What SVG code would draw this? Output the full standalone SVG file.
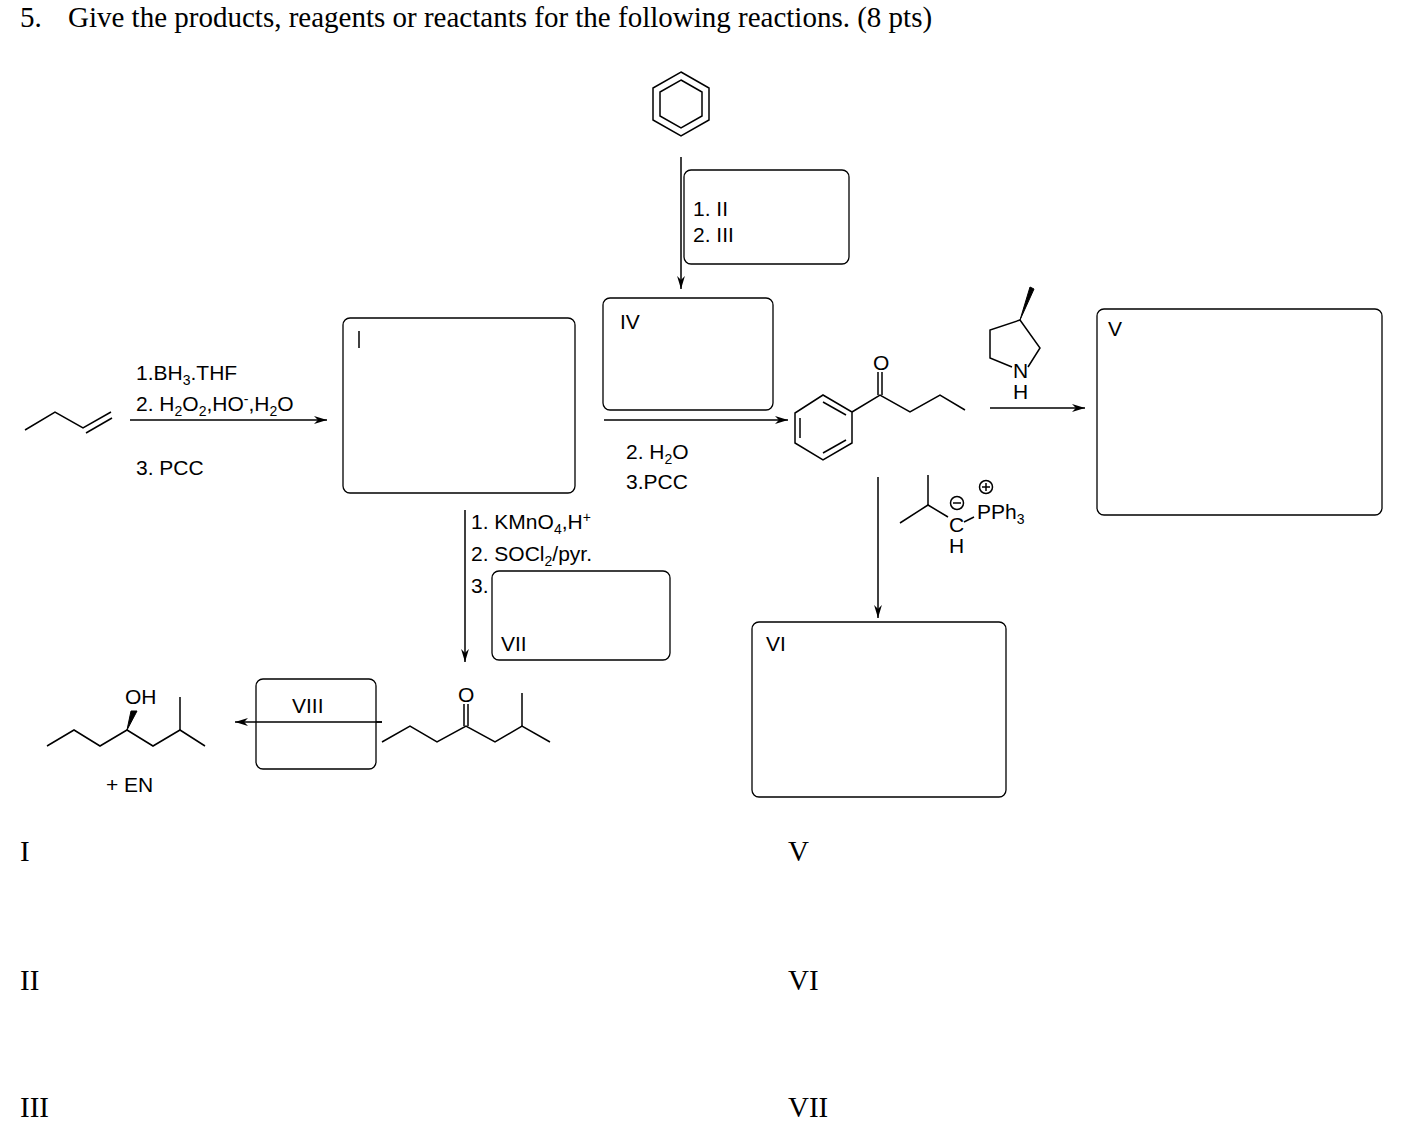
<svg xmlns="http://www.w3.org/2000/svg" width="1422" height="1130" viewBox="0 0 1422 1130">
<defs>
<marker id="ah" viewBox="0 0 10 10" refX="10" refY="5" markerWidth="13" markerHeight="13" orient="auto" markerUnits="userSpaceOnUse"><path d="M0,2 L10,5 L0,8 L3,5 z" fill="#000"/></marker>
<style>
.s{font-family:"Liberation Sans",Arial,sans-serif;font-size:21px;fill:#000}
.t{font-family:"Liberation Serif","Times New Roman",serif;font-size:29px;fill:#000}
.b{fill:#fff;stroke:#000;stroke-width:1.3}
.l{fill:none;stroke:#000;stroke-width:1.5}
</style>
</defs>
<rect width="1422" height="1130" fill="#fff"/>
<text class="t" x="20" y="27">5.</text>
<text class="t" x="68" y="27">Give the products, reagents or reactants for the following reactions. (8 pts)</text>
<g id="benzene-top" class="l"><polygon points="681,72 709,88 709,120 681,136 653,120 653,88"/><polygon points="681,80 702,92 702,116 681,128 660,116 660,92"/></g>
<g id="connectors">
<line class="l" x1="681" y1="157" x2="681" y2="289" marker-end="url(#ah)"/>
<line class="l" x1="130" y1="420" x2="327" y2="420" marker-end="url(#ah)"/>
<line class="l" x1="604" y1="420" x2="788" y2="420" marker-end="url(#ah)"/>
<line class="l" x1="990" y1="408" x2="1085" y2="408" marker-end="url(#ah)"/>
<line class="l" x1="465" y1="510" x2="465" y2="662" marker-end="url(#ah)"/>
<line class="l" x1="878" y1="477" x2="878" y2="618" marker-end="url(#ah)"/>
<line class="l" x1="382" y1="722" x2="235" y2="722" marker-end="url(#ah)"/>
</g>
<g id="box-II-III"><rect class="b" x="684" y="170" width="165" height="94" rx="7"/><text class="s" x="693" y="216">1. II</text><text class="s" x="693" y="242">2. III</text></g>
<g id="box-IV"><rect class="b" x="603" y="298" width="170" height="112" rx="7"/><text class="s" x="620" y="329">IV</text></g>
<g id="box-I"><rect class="b" x="343" y="318" width="232" height="175" rx="7"/><line class="l" x1="359" y1="331" x2="359" y2="348"/></g>
<g id="box-V"><rect class="b" x="1097" y="309" width="285" height="206" rx="7"/><text class="s" x="1108" y="336">V</text></g>
<g id="box-VI"><rect class="b" x="752" y="622" width="254" height="175" rx="7"/><text class="s" x="766" y="651">VI</text></g>
<g id="box-VII"><rect class="b" x="492" y="571" width="178" height="89" rx="7"/><text class="s" x="501" y="651">VII</text></g>
<g id="box-VIII"><rect class="b" x="256" y="679" width="120" height="90" rx="7"/><text class="s" x="292" y="713">VIII</text></g>
<line class="l" x1="256" y1="722" x2="382" y2="722"/>
<g id="propene" class="l"><polyline points="25,430 55,412 83,428 111,412"/><line x1="86" y1="433" x2="112" y2="418"/></g>
<g id="reagents-1">
<text class="s" x="136" y="380">1.BH<tspan font-size="14" dy="5">3</tspan><tspan dy="-5">.THF</tspan></text>
<text class="s" x="136" y="411">2. H<tspan font-size="14" dy="5">2</tspan><tspan dy="-5">O</tspan><tspan font-size="14" dy="5">2</tspan><tspan dy="-5">,HO</tspan><tspan font-size="14" dy="-7">-</tspan><tspan dy="7">,H</tspan><tspan font-size="14" dy="5">2</tspan><tspan dy="-5">O</tspan></text>
<text class="s" x="136" y="475">3. PCC</text>
</g>
<g id="reagents-2"><text class="s" x="626" y="459">2. H<tspan font-size="14" dy="5">2</tspan><tspan dy="-5">O</tspan></text><text class="s" x="626" y="489">3.PCC</text></g>
<g id="reagents-3">
<text class="s" x="471" y="529">1. KMnO<tspan font-size="14" dy="5">4</tspan><tspan dy="-5">,H</tspan><tspan font-size="14" dy="-7">+</tspan></text>
<text class="s" x="471" y="561">2. SOCl<tspan font-size="14" dy="5">2</tspan><tspan dy="-5">/pyr.</tspan></text>
<text class="s" x="471" y="593">3.</text>
</g>
<g id="butyrophenone" class="l">
<polygon points="823,395 852,412 852,443 823,460 795,443 795,413"/>
<line x1="800" y1="418" x2="800" y2="438"/><line x1="823" y1="402" x2="846" y2="415"/><line x1="823" y1="453" x2="846" y2="440"/>
<polyline points="852,412 880,395 910,412 940,395 965,410"/>
<line x1="878" y1="395" x2="878" y2="372"/><line x1="882" y1="395" x2="882" y2="372"/>
</g>
<text class="s" x="873" y="370">O</text>
<g id="pyrrolidine">
<polyline class="l" points="1020,320 990,330 990,358 1012,367"/><polyline class="l" points="1028,367 1040,348 1020,320"/>
<polygon points="1020,320 1030,287 1034,289" fill="#000" stroke="#000"/>
<text class="s" x="1013" y="378" font-size="19">N</text><text class="s" x="1013" y="399" font-size="19">H</text>
</g>
<g id="ylide">
<polyline class="l" points="900,523 928,505 948,517"/><line class="l" x1="928" y1="505" x2="928" y2="475"/>
<text class="s" x="949" y="532">C</text><text class="s" x="949" y="553">H</text>
<line class="l" x1="964" y1="522" x2="974" y2="517"/>
<text class="s" x="977" y="519">PPh<tspan font-size="14" dy="5">3</tspan></text>
<circle cx="957" cy="503" r="6.5" class="l"/><line class="l" x1="953" y1="503" x2="961" y2="503"/>
<circle cx="986" cy="487" r="6.5" class="l"/><line class="l" x1="982" y1="487" x2="990" y2="487"/><line class="l" x1="986" y1="483" x2="986" y2="491"/>
</g>
<g id="alcohol">
<polyline class="l" points="47,746 74,730 100,746 127,730 153,746 180,730 205,746"/><line class="l" x1="180" y1="730" x2="180" y2="697"/>
<polygon points="127,730 131,711 137,711" fill="#000" stroke="#000"/>
<text class="s" x="125" y="704">OH</text>
<text class="s" x="106" y="792">+ EN</text>
</g>
<g id="ketone">
<polyline class="l" points="382,742 410,726 437,742 466,726 495,742 522,726 550,742"/><line class="l" x1="522" y1="726" x2="522" y2="693"/>
<line class="l" x1="464" y1="726" x2="464" y2="704"/><line class="l" x1="468" y1="726" x2="468" y2="704"/>
<text class="s" x="458" y="702">O</text>
</g>
<g id="answers">
<text class="t" x="20" y="861">I</text><text class="t" x="20" y="990">II</text><text class="t" x="20" y="1117">III</text>
<text class="t" x="788" y="861">V</text><text class="t" x="788" y="990">VI</text><text class="t" x="788" y="1117">VII</text>
</g>
</svg>
